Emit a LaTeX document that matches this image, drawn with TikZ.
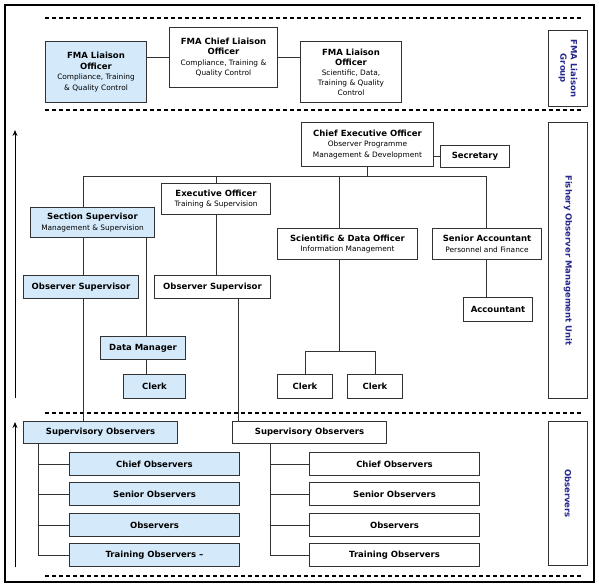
\documentclass[tikz,border=0pt]{standalone}
\usepackage{fontspec}
\setmainfont{DejaVu Sans}
\usetikzlibrary{arrows.meta,calc}
\definecolor{lblue}{RGB}{212,234,250}
\definecolor{navy}{RGB}{38,40,140}
\definecolor{edge}{RGB}{50,50,50}
\newcommand\hd[1]{{\fontsize{8.5}{10.5}\selectfont\bfseries #1}}
\tikzset{
  box/.style={draw=edge, line width=1pt, fill=white, inner sep=0pt, align=center, anchor=north west,
    font=\fontsize{7.4}{10.5}\selectfont},
  bbox/.style={box, fill=lblue},
  grp/.style={draw=edge, line width=1pt, fill=white, inner sep=0pt, anchor=north west},
  grplabel/.style={rotate=-90, text=navy, align=center, font=\fontsize{8.5}{10.5}\selectfont\bfseries},
  conn/.style={draw=edge, line width=1pt},
  dashline/.style={line width=1.2pt, dash pattern=on 4pt off 3pt},
  frame/.style={line width=1.5pt},
  uparrow/.style={line width=1pt, -{Stealth[length=6pt,width=5pt]}}
}
\begin{document}
\begin{tikzpicture}[x=1pt,y=-1pt]
\useasboundingbox (0,0) rectangle (599,586);
% frame
\coordinate (f1) at (5,5); \coordinate (f2) at (594,582);
\draw[frame] (f1) rectangle (f2);
% dashed separators
\coordinate (d1l) at (45,18);  \coordinate (d1r) at (583,18);
\coordinate (d2l) at (45,110); \coordinate (d2r) at (583,110);
\coordinate (d3l) at (45,413); \coordinate (d3r) at (583,413);
\coordinate (d4l) at (45,576); \coordinate (d4r) at (583,576);
\draw[dashline] (d1l) -- (d1r);
\draw[dashline] (d2l) -- (d2r);
\draw[dashline] (d3l) -- (d3r);
\draw[dashline] (d4l) -- (d4r);
% arrows
\coordinate (a1s) at (15,398); \coordinate (a1e) at (15,130);
\coordinate (a2s) at (15,567); \coordinate (a2e) at (15,422);
\draw[uparrow] (a1s) -- (a1e);
\draw[uparrow] (a2s) -- (a2e);
% group labels
\node[grp, minimum width=39pt, minimum height=76pt] (g1) at (548,30) {};
\node[grplabel] at (g1.center) {FMA Liaison\\Group};
\node[grp, minimum width=39pt, minimum height=276pt] (g2) at (548,122) {};
\node[grplabel] at (g2.center) {Fishery Observer Management Unit};
\node[grp, minimum width=39pt, minimum height=144pt] (g3) at (548,421) {};
\node[grplabel] at (g3.center) {Observers};
% FMA liaison
\node[bbox, minimum width=101pt, minimum height=61pt] (fla) at (45,41) {\hd{FMA Liaison}\\\hd{Officer}\\Compliance, Training\\\& Quality Control};
\node[box, minimum width=108pt, minimum height=60pt] (fcl) at (169,27) {\hd{FMA Chief Liaison}\\\hd{Officer}\\Compliance, Training \&\\Quality Control};
\node[box, minimum width=101pt, minimum height=61pt, font=\fontsize{7.4}{10}\selectfont] (flr) at (300,41) {\hd{FMA Liaison}\\\hd{Officer}\\Scientific, Data,\\Training \& Quality\\Control};
\draw[conn] (fla.east |- fcl.west) -- (fcl.west);
\draw[conn] (fcl.east) -- (flr.west |- fcl.east);
% management unit
\node[box, minimum width=132pt, minimum height=44pt] (ceo) at (301,122) {\hd{Chief Executive Officer}\\Observer Programme\\Management \& Development};
\node[box, minimum width=69pt, minimum height=22pt] (sec) at (440,145) {\hd{Secretary}};
\node[box, minimum width=109pt, minimum height=31pt] (exo) at (161,183) {\hd{Executive Officer}\\Training \& Supervision};
\node[bbox, minimum width=124pt, minimum height=30pt] (ssup) at (30,207) {\hd{Section Supervisor}\\Management \& Supervision};
\node[box, minimum width=140pt, minimum height=31pt] (sdo) at (277,228) {\hd{Scientific \& Data Officer}\\Information Management};
\node[box, minimum width=109pt, minimum height=31pt] (sacc) at (432,228) {\hd{Senior Accountant}\\Personnel and Finance};
\node[bbox, minimum width=115pt, minimum height=23pt] (osl) at (23,275) {\hd{Observer Supervisor}};
\node[box, minimum width=116pt, minimum height=23pt] (osm) at (154,275) {\hd{Observer Supervisor}};
\node[box, minimum width=69pt, minimum height=24pt] (acc) at (463,297) {\hd{Accountant}};
\node[bbox, minimum width=85pt, minimum height=23pt] (dm) at (100,336) {\hd{Data Manager}};
\node[bbox, minimum width=62pt, minimum height=24pt] (c1) at (123,374) {\hd{Clerk}};
\node[box, minimum width=55pt, minimum height=24pt] (c2) at (277,374) {\hd{Clerk}};
\node[box, minimum width=55pt, minimum height=24pt] (c3) at (347,374) {\hd{Clerk}};
% connectors management
\coordinate (bl) at (83,176); \coordinate (br) at (486,176);
\coordinate (xs) at (339,176); \coordinate (xd) at (146,237);
\coordinate (xo) at (238,298); \coordinate (cb) at (339,351);
\draw[conn] (ceo.east |- sec.west) -- (sec.west);
\draw[conn] (ceo.south) -- (ceo.south |- bl);
\draw[conn] (ssup.north -| bl) -- (bl) -- (br) -- (sacc.north -| br);
\draw[conn] (exo.north) -- (exo.north |- bl);
\draw[conn] (xs) -- (sdo.north -| xs);
\draw[conn] (ssup.south -| bl) -- (osl.north -| bl);
\draw[conn] (ssup.south -| xd) -- (dm.north -| xd);
\draw[conn] (dm.south -| xd) -- (c1.north -| xd);
\draw[conn] (exo.south) -- (exo.south |- osm.north);
\draw[conn] (sdo.south -| cb) -- (cb);
\draw[conn] (c2.north) -- (c2.north |- cb) -- (c3.north |- cb) -- (c3.north);
\draw[conn] (sacc.south -| br) -- (acc.north -| br);
% observers
\node[bbox, minimum width=154pt, minimum height=22pt] (svl) at (23,421) {\hd{Supervisory Observers}};
\node[box, minimum width=154pt, minimum height=22pt] (svr) at (232,421) {\hd{Supervisory Observers}};
\draw[conn] (osl.south -| bl) -- (svl.north -| bl);
\draw[conn] (osm.south -| xo) -- (svr.north -| xo);
\node[bbox, minimum width=170pt, minimum height=23pt] (l1) at (69,452) {\hd{Chief Observers}};
\node[bbox, minimum width=170pt, minimum height=23pt] (l2) at (69,482) {\hd{Senior Observers}};
\node[bbox, minimum width=170pt, minimum height=23pt] (l3) at (69,513) {\hd{Observers}};
\node[bbox, minimum width=170pt, minimum height=23pt] (l4) at (69,543) {\hd{Training Observers --}};
\node[box, minimum width=170pt, minimum height=23pt] (r1) at (309,452) {\hd{Chief Observers}};
\node[box, minimum width=170pt, minimum height=23pt] (r2) at (309,482) {\hd{Senior Observers}};
\node[box, minimum width=170pt, minimum height=23pt] (r3) at (309,513) {\hd{Observers}};
\node[box, minimum width=170pt, minimum height=23pt] (r4) at (309,543) {\hd{Training Observers}};
\coordinate (tl) at (38,443); \coordinate (tr) at (270,443);
\draw[conn] (tl) -- (l4.west -| tl) -- (l4.west);
\draw[conn] (l1.west -| tl) -- (l1.west);
\draw[conn] (l2.west -| tl) -- (l2.west);
\draw[conn] (l3.west -| tl) -- (l3.west);
\draw[conn] (tr) -- (r4.west -| tr) -- (r4.west);
\draw[conn] (r1.west -| tr) -- (r1.west);
\draw[conn] (r2.west -| tr) -- (r2.west);
\draw[conn] (r3.west -| tr) -- (r3.west);
\end{tikzpicture}
\end{document}
